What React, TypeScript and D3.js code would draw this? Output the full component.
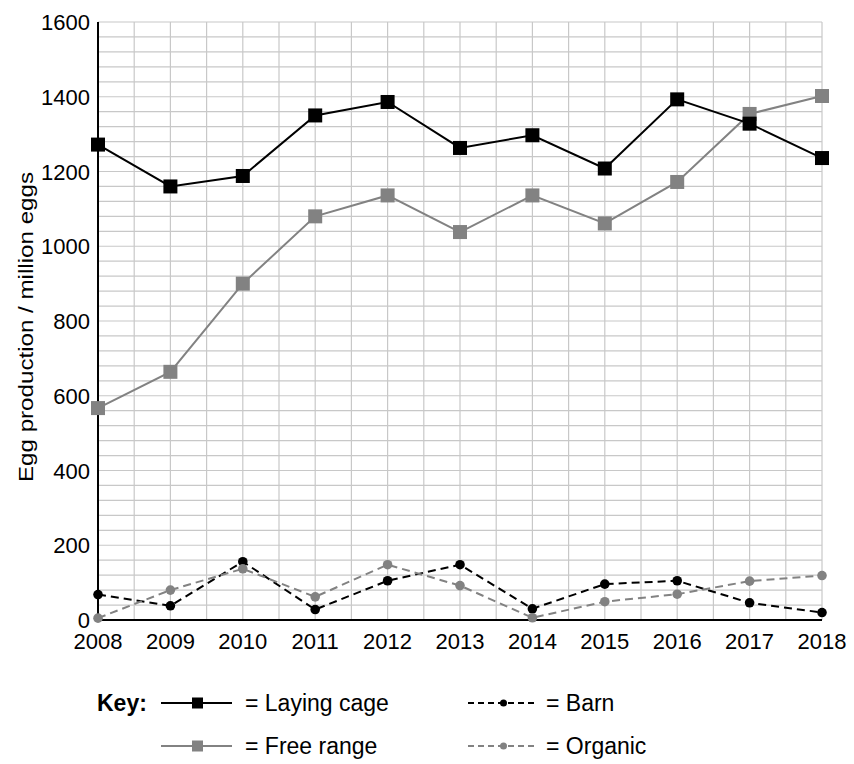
import React from 'react';
import * as d3 from 'd3';

const years = [2008, 2009, 2010, 2011, 2012, 2013, 2014, 2015, 2016, 2017, 2018];
const layingCage = [1272, 1160, 1188, 1350, 1386, 1263, 1297, 1208, 1393, 1328, 1236];
const freeRange = [567, 664, 900, 1080, 1136, 1038, 1136, 1061, 1172, 1354, 1402];
const barn = [68, 38, 156, 28, 105, 148, 30, 96, 105, 46, 20];
const organic = [5, 80, 137, 62, 148, 92, 6, 49, 69, 104, 119];
const yTicks = [0, 200, 400, 600, 800, 1000, 1200, 1400, 1600];

const W = 854;
const H = 764;
const margin = { left: 98, right: 32, top: 22, bottom: 144 };
const FONT = 'Liberation Sans, Arial, sans-serif';
const GREY = '#828282';

const x = d3.scaleLinear().domain([2008, 2018]).range([margin.left, W - margin.right]);
const y = d3.scaleLinear().domain([0, 1600]).range([H - margin.bottom, margin.top]);

type Series = { name: string; values: number[]; color: string; dashed: boolean; marker: 'square' | 'dot' };

const series: Series[] = [
    { name: 'Barn', values: barn, color: '#000', dashed: true, marker: 'dot' },
    { name: 'Organic', values: organic, color: GREY, dashed: true, marker: 'dot' },
    { name: 'Free range', values: freeRange, color: GREY, dashed: false, marker: 'square' },
    { name: 'Laying cage', values: layingCage, color: '#000', dashed: false, marker: 'square' },
];

const line = d3.line<number>()
    .x((_, i) => x(years[i]))
    .y(d => y(d));

const Marker: React.FC<{ cx: number; cy: number; s: Series; small?: boolean }> = ({ cx, cy, s, small }) => {
    if (s.marker === 'square') {
        const half = small ? 5.5 : 7;
        return <rect x={cx - half} y={cy - half} width={half * 2} height={half * 2} fill={s.color} />;
    }
    return <circle cx={cx} cy={cy} r={small ? 3.5 : 4.8} fill={s.color} />;
};

const App: React.FC = () => {
    const halfYears = d3.range(2008, 2018.01, 0.5);
    const minorY = d3.range(0, 1601, 40);
    const [x0, x1] = x.range();
    const [y0, y1] = y.range();

    // legend rows: solid samples on the left, dashed ones on the right
    const legend = [
        { s: series[3], x0: 161, row: 703 },
        { s: series[0], x0: 468, row: 703 },
        { s: series[2], x0: 161, row: 746 },
        { s: series[1], x0: 468, row: 746 },
    ];

    return (
        <svg width={W} height={H} style={{ position: 'absolute', left: 0, top: 0, background: '#fff' }}>
            {/* grid */}
            <g stroke="#c8c8c8" strokeWidth={1.2}>
                {halfYears.map(v => (
                    <line key={`gx${v}`} x1={x(v)} x2={x(v)} y1={y0} y2={y1} />
                ))}
                {minorY.map(v => (
                    <line key={`gy${v}`} x1={x0} x2={x1} y1={y(v)} y2={y(v)} />
                ))}
            </g>

            {/* axes */}
            <line x1={x0} x2={x0} y1={y1} y2={y0} stroke="#000" strokeWidth={2} />
            <line x1={x0} x2={x1} y1={y0} y2={y0} stroke="#000" strokeWidth={2} />

            <g fontFamily={FONT} fontSize={22} fill="#000">
                {yTicks.map(t => (
                    <text key={t} x={x0 - 8} y={y(t) + 8} textAnchor="end">{t}</text>
                ))}
                {years.map(t => (
                    <text key={t} x={x(t)} y={y0 + 29} textAnchor="middle">{t}</text>
                ))}
            </g>
            <text
                transform={`translate(33, 327) rotate(-90)`}
                textAnchor="middle"
                fontFamily={FONT}
                fontSize={21}
                textLength={310}
                lengthAdjust="spacingAndGlyphs"
            >Egg production / million eggs</text>

            {/* series */}
            {series.map(s => (
                <g key={s.name}>
                    <path
                        d={line(s.values) || ''}
                        fill="none"
                        stroke={s.color}
                        strokeWidth={2}
                        strokeDasharray={s.dashed ? '8 5' : undefined}
                    />
                    {s.values.map((v, i) => (
                        <Marker key={i} cx={x(years[i])} cy={y(v)} s={s} />
                    ))}
                </g>
            ))}

            {/* key */}
            <g fontFamily={FONT} fontSize={23}>
                <text x={97} y={703 + 8} fontWeight="bold">Key:</text>
                {legend.map(l => {
                    const len = l.s.dashed ? 69 : 71;
                    return (
                        <g key={l.s.name}>
                            <line
                                x1={l.x0}
                                x2={l.x0 + len}
                                y1={l.row}
                                y2={l.row}
                                stroke={l.s.color}
                                strokeWidth={2}
                                strokeDasharray={l.s.dashed ? '6 4' : undefined}
                            />
                            <Marker cx={l.x0 + len / 2 + 1} cy={l.row} s={l.s} small />
                            <text x={l.x0 + len + (l.s.dashed ? 9 : 13)} y={l.row + 8}>= {l.s.name}</text>
                        </g>
                    );
                })}
            </g>
        </svg>
    );
};

export default App;
